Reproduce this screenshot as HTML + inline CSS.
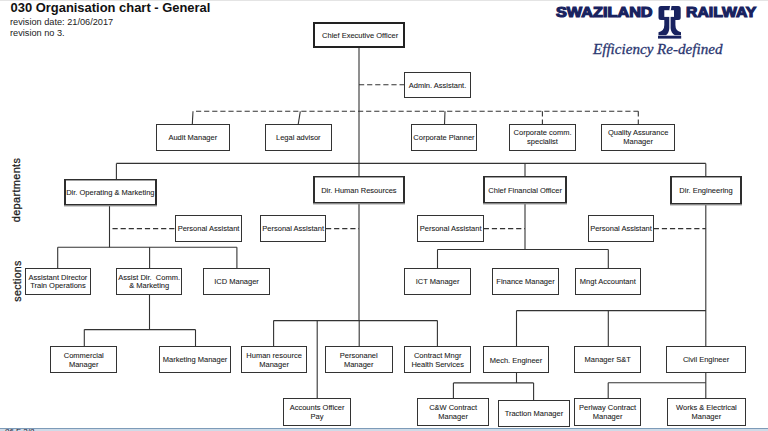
<!DOCTYPE html>
<html><head><meta charset="utf-8"><style>
html,body{margin:0;padding:0;background:#fff;}
body{width:768px;height:431px;position:relative;overflow:hidden;font-family:"Liberation Sans",sans-serif;color:#1a1a1a;}
.b{-webkit-text-stroke:0.08px #222;}
.b{position:absolute;box-sizing:border-box;border:1px solid #333;background:#fff;display:flex;align-items:center;justify-content:center;text-align:center;font-size:7.5px;line-height:8.9px;white-space:nowrap;padding-top:2.6px;}
.p1{padding-top:1.6px;}
.ceo{border:2px solid #222;padding-left:2.2px;}
.dir{border:1px solid #2e2e2e;border-left-width:2px;border-right-width:2px;box-shadow:0 1.4px 0 #8a8a8a;}
.dir::before{content:'';position:absolute;left:0;right:0;top:0;height:1.2px;background:#a0a0a0}

svg{position:absolute;left:0;top:0;}
.t{position:absolute;white-space:nowrap;}
</style></head><body>
<div style="position:absolute;left:0;top:0;width:768px;height:1px;background:#e4e4e4"></div>

<svg width="768" height="431" viewBox="0 0 768 431">
<g stroke="#333" stroke-width="1.1" fill="none">
<line x1="359" y1="48" x2="359" y2="320.6"/>
<line x1="116.4" y1="163.4" x2="705.8" y2="163.4"/>
<line x1="116.4" y1="163.4" x2="116.4" y2="179.1"/>
<line x1="525" y1="163.4" x2="525" y2="176.6"/>
<line x1="525" y1="202.9" x2="525" y2="249.5"/>
<line x1="705.8" y1="163.4" x2="705.8" y2="176.5"/>
<line x1="705.8" y1="203" x2="705.8" y2="398.4"/>
<line x1="109.5" y1="204.9" x2="109.5" y2="247.3"/>
<line x1="57.7" y1="247.3" x2="236.9" y2="247.3"/>
<line x1="57.7" y1="247.3" x2="57.7" y2="268.1"/>
<line x1="149.6" y1="247.3" x2="149.6" y2="268.1"/>
<line x1="236.9" y1="247.3" x2="236.9" y2="268.1"/>
<line x1="149.5" y1="294.2" x2="149.5" y2="329.6"/>
<line x1="84.3" y1="329.6" x2="195.5" y2="329.6"/>
<line x1="84.3" y1="329.6" x2="84.3" y2="346.5"/>
<line x1="195.5" y1="329.6" x2="195.5" y2="346.5"/>
<line x1="437.5" y1="249.5" x2="608.3" y2="249.5"/>
<line x1="437.5" y1="249.5" x2="437.5" y2="268.1"/>
<line x1="608.3" y1="249.5" x2="608.3" y2="268.1"/>
<line x1="273.6" y1="320.6" x2="437.4" y2="320.6"/>
<line x1="273.6" y1="320.6" x2="273.6" y2="346.3"/>
<line x1="359.2" y1="320.6" x2="359.2" y2="346.3"/>
<line x1="437.4" y1="320.6" x2="437.4" y2="346.3"/>
<line x1="317.2" y1="320.6" x2="317.2" y2="398.9"/>
<line x1="516.5" y1="310.6" x2="706" y2="310.6"/>
<line x1="516.5" y1="310.6" x2="516.5" y2="346.8"/>
<line x1="608.3" y1="310.6" x2="608.3" y2="346.6"/>
<line x1="516.5" y1="372.6" x2="516.5" y2="382.9"/>
<line x1="453.4" y1="382.9" x2="533.6" y2="382.9"/>
<line x1="453.4" y1="382.9" x2="453.4" y2="398.8"/>
<line x1="533.6" y1="382.9" x2="533.6" y2="400.5"/>
<line x1="608.2" y1="382.7" x2="705.7" y2="382.7"/>
<line x1="608.2" y1="382.7" x2="608.2" y2="398.4"/>
<line x1="193" y1="111.3" x2="192.3" y2="124.4"/>
<line x1="300.3" y1="111.3" x2="298.2" y2="124.4"/>
<line x1="445" y1="111.3" x2="444.5" y2="124.4"/>
</g><g stroke="#333" stroke-width="1.1" fill="none" stroke-dasharray="5.2 2.9">
<line x1="359" y1="84.7" x2="404.6" y2="84.7"/>
<line x1="196" y1="111.3" x2="638.3" y2="111.3"/>
<line x1="542.4" y1="111.3" x2="542.4" y2="124.4"/>
<line x1="638.3" y1="111.3" x2="638.3" y2="124.4"/>
<line x1="112.5" y1="228.6" x2="175.4" y2="228.6"/>
<line x1="326" y1="228.6" x2="359" y2="228.6"/>
<line x1="483.75" y1="228.6" x2="525" y2="228.6"/>
<line x1="653.75" y1="228.6" x2="705.8" y2="228.6"/>
</g></svg>
<div class="b ceo" style="left:313.1px;top:21.9px;width:91.9px;height:26.2px">Chief Executive Officer</div>
<div class="b " style="left:404.1px;top:71.7px;width:66.9px;height:26.8px">Admin. Assistant.</div>
<div class="b " style="left:155.5px;top:123.9px;width:74.6px;height:26.8px">Audit Manager</div>
<div class="b " style="left:264.5px;top:123.9px;width:67.6px;height:26.8px">Legal advisor</div>
<div class="b " style="left:410.9px;top:123.9px;width:66.2px;height:26.8px">Corporate Planner</div>
<div class="b p1" style="left:509.1px;top:123.9px;width:66.9px;height:26.8px">Corporate comm.<br>specialist</div>
<div class="b p1" style="left:600.8px;top:123.9px;width:74.7px;height:26.8px">Quality Assurance<br>Manager</div>
<div class="b dir" style="left:63.5px;top:178.6px;width:93.7px;height:26.8px">Dir. Operating &amp; Marketing</div>
<div class="b dir" style="left:312.9px;top:176.1px;width:92px;height:27.3px">Dir. Human Resources</div>
<div class="b dir" style="left:482.9px;top:176.1px;width:84.5px;height:27.3px">Chief Financial Officer</div>
<div class="b dir" style="left:669.9px;top:176px;width:72.3px;height:27.5px">Dir. Engineering</div>
<div class="b " style="left:174.9px;top:214.7px;width:67.3px;height:27.7px">Personal Assistant</div>
<div class="b " style="left:259.9px;top:214.7px;width:66.6px;height:27.7px">Personal Assistant</div>
<div class="b " style="left:417px;top:214.7px;width:67.25px;height:27.7px">Personal Assistant</div>
<div class="b " style="left:587.8px;top:214.7px;width:66.45px;height:27.7px">Personal Assistant</div>
<div class="b " style="left:24.9px;top:267.6px;width:66.2px;height:27.1px">Assistant Director<br>Train Operations</div>
<div class="b " style="left:116.2px;top:267.6px;width:66px;height:27.1px">Assist Dir.&nbsp; Comm.<br>&amp; Marketing</div>
<div class="b " style="left:203px;top:267.6px;width:67.1px;height:27.1px">ICD Manager</div>
<div class="b " style="left:404.1px;top:267.6px;width:67px;height:27.1px">ICT Manager</div>
<div class="b " style="left:492px;top:267.6px;width:67px;height:27.1px">Finance Manager</div>
<div class="b " style="left:574.5px;top:267.6px;width:66.6px;height:27.1px">Mngt Accountant</div>
<div class="b " style="left:50.4px;top:346px;width:66.7px;height:27.1px">Commercial<br>Manager</div>
<div class="b " style="left:159px;top:346px;width:72.1px;height:27.1px">Marketing Manager</div>
<div class="b " style="left:240.9px;top:345.8px;width:66.4px;height:26.9px">Human resource<br>Manager</div>
<div class="b " style="left:324.9px;top:345.8px;width:67.7px;height:26.9px">Personanel<br>Manager</div>
<div class="b " style="left:404px;top:345.8px;width:67.3px;height:26.9px">Contract Mngr<br>Health Services</div>
<div class="b " style="left:482.8px;top:346.3px;width:66.4px;height:26.8px">Mech. Engineer</div>
<div class="b " style="left:574.4px;top:346.1px;width:66.6px;height:26.8px">Manager S&amp;T</div>
<div class="b " style="left:666.2px;top:346.1px;width:79.8px;height:26.7px">Civil Engineer</div>
<div class="b " style="left:283.2px;top:398.4px;width:67.8px;height:27.4px">Accounts Officer<br>Pay</div>
<div class="b " style="left:417.1px;top:398.3px;width:72px;height:27.5px">C&amp;W Contract<br>Manager</div>
<div class="b " style="left:497.9px;top:400px;width:72px;height:26.7px">Traction Manager</div>
<div class="b " style="left:574.4px;top:397.9px;width:66.5px;height:28.1px">Perlway Contract<br>Manager</div>
<div class="b " style="left:666.5px;top:397.9px;width:79.8px;height:28.1px">Works &amp; Electrical<br>Manager</div>
<div class="t" style="left:10.5px;top:0.2px;font-size:12.95px;font-weight:bold;color:#111">030 Organisation chart - General</div>
<div class="t" style="left:10px;top:16.6px;font-size:9.2px;color:#222">revision date: 21/06/2017</div>
<div class="t" style="left:10px;top:27.8px;font-size:9.2px;color:#222">revision no 3.</div>
<div class="t" style="left:15.6px;top:189.6px;font-size:11px;letter-spacing:0.3px;color:#1a1a1a;-webkit-text-stroke:0.25px #1a1a1a;transform:translate(-50%,-50%) rotate(-90deg)">departments</div>
<div class="t" style="left:17.2px;top:281.2px;font-size:10.6px;letter-spacing:0.3px;color:#1a1a1a;-webkit-text-stroke:0.25px #1a1a1a;transform:translate(-50%,-50%) rotate(-90deg)">sections</div>
<div class="t" style="left:556.2px;top:3.7px;font-size:13.9px;font-weight:bold;color:#18225f;transform-origin:0 0;transform:scaleX(1.17);-webkit-text-stroke:1.1px #18225f">SWAZILAND</div>
<div class="t" style="left:686.2px;top:3.7px;font-size:13.9px;font-weight:bold;color:#18225f;transform-origin:0 0;transform:scaleX(1.135);-webkit-text-stroke:1.1px #18225f">RAILWAY</div>
<svg width="768" height="431" viewBox="0 0 768 431">
<path fill="#18225f" d="M661 5.9H678.2Q680.7 5.9 680.7 8.4V17.4Q680.7 19.9 678.2 19.9H675.4V25Q675.4 31 681 32.3V35.3H658.5V32.3Q664.3 31 664.3 25V19.9H661Q658.5 19.9 658.5 17.4V8.4Q658.5 5.9 661 5.9Z"/>
<rect fill="#18225f" x="658" y="35.8" width="23.2" height="2.8"/>
<path fill="#fff" d="M664.3 10.2H674V16.9H664.3Z"/>
<path fill="#fff" d="M670.2 5.5H671.6L670.8 10.4H669.2Z"/>
<path fill="#fff" d="M669.3 16H670.6V28Q670.8 33 675 35.3H665.9Q669.2 33 669.3 28Z"/>
</svg>
<div class="t" style="left:592.5px;top:41px;font-size:14.8px;font-style:italic;font-family:'Liberation Serif',serif;color:#2a3670;-webkit-text-stroke:0.3px #2a3670;transform-origin:0 0;transform:scaleX(1.02)">Efficiency Re-defined</div>
<div style="position:absolute;left:0;top:427.5px;width:768px;height:1.2px;background:#7d9bb8"></div>
<div style="position:absolute;left:0;top:428.7px;width:768px;height:3px;background:#cfdbe8"></div>
<div class="t" style="left:5px;top:427px;font-size:8px;color:#223;line-height:10px">86 F 2/8</div>
</body></html>
